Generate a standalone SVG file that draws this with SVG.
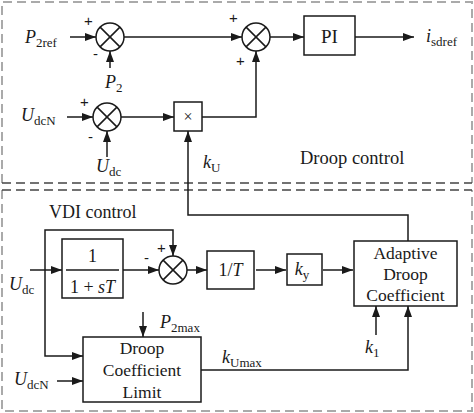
<svg xmlns="http://www.w3.org/2000/svg" width="474" height="413" viewBox="0 0 474 413">
<defs>
<marker id="ah" markerWidth="11" markerHeight="8" refX="11" refY="4" orient="auto" markerUnits="userSpaceOnUse">
<path d="M0,0 L11,4 L0,8 Z" fill="#1a1a1a"/>
</marker>
</defs>
<style>
.ln{fill:none;stroke:#1a1a1a;stroke-width:1.5}
.ar{fill:none;stroke:#1a1a1a;stroke-width:1.5;marker-end:url(#ah)}
.bx{fill:#fff;stroke:#1a1a1a;stroke-width:1.5}
.sm{fill:#fff;stroke:#1a1a1a;stroke-width:1.5}
text{font-family:'Liberation Serif','Times New Roman','DejaVu Serif',serif;font-size:18px;fill:#1a1a1a}
.b{font-size:17.5px}
.i{font-style:italic}
.s{font-size:13px;font-style:normal}
.pm{font-family:'Liberation Sans',Arial,sans-serif;font-size:15px}
.brd{fill:none;stroke:#aaa;stroke-width:2;stroke-dasharray:9,5}
.sep{fill:none;stroke:#444;stroke-width:1.5;stroke-dasharray:9,5}
</style>
<rect x="0" y="0" width="474" height="413" fill="#fff"/>
<g id="borders">
<polyline class="brd" points="2,183 2,2 472,2 472,183"/>
<polyline class="brd" points="2,190 2,411 472,411 472,190"/>
<line class="sep" x1="2" y1="183" x2="472" y2="183"/>
<line class="sep" x1="2" y1="190" x2="472" y2="190"/>
</g>
<g id="connectors">
<line class="ar" x1="70" y1="37" x2="96" y2="37"/>
<line class="ar" x1="110" y1="68" x2="110" y2="51"/>
<line class="ar" x1="124" y1="37" x2="242" y2="37"/>
<line class="ar" x1="270" y1="37" x2="304" y2="37"/>
<line class="ar" x1="355" y1="37" x2="414" y2="37"/>
<line class="ar" x1="67" y1="117" x2="93" y2="117"/>
<line class="ar" x1="107" y1="157" x2="107" y2="131"/>
<line class="ar" x1="121" y1="117" x2="174" y2="117"/>
<polyline class="ar" points="202,117 256,117 256,51"/>
<polyline class="ar" points="408,241 408,215 188,215 188,131"/>
<line class="ln" x1="30" y1="270" x2="45" y2="270"/>
<polyline class="ar" points="45,270 45,230 173,230 173,256"/>
<line class="ar" x1="45" y1="270" x2="62" y2="270"/>
<line class="ar" x1="123" y1="270" x2="159" y2="270"/>
<line class="ar" x1="187" y1="270" x2="207" y2="270"/>
<line class="ar" x1="256" y1="270" x2="286" y2="270"/>
<line class="ar" x1="323" y1="270" x2="353" y2="270"/>
<line class="ar" x1="376" y1="335" x2="376" y2="306"/>
<polyline class="ar" points="201,370 408,370 408,306"/>
<polyline class="ar" points="45,270 45,356 83,356"/>
<line class="ar" x1="143" y1="312" x2="143" y2="337"/>
<line class="ar" x1="57" y1="381" x2="83" y2="381"/>
</g>
<g id="sum1">
<circle class="sm" cx="110" cy="37" r="14"/>
<path class="ln" d="M100.1,27.1 L119.9,46.9 M119.9,27.1 L100.1,46.9"/>
<text class="pm" x="84" y="26">+</text>
<text class="pm" x="93" y="59">-</text>
</g>
<g id="sum2">
<circle class="sm" cx="256" cy="37" r="14"/>
<path class="ln" d="M246.1,27.1 L265.9,46.9 M265.9,27.1 L246.1,46.9"/>
<text class="pm" x="229" y="23">+</text>
<text class="pm" x="236" y="66">+</text>
</g>
<g id="pi">
<rect class="bx" x="304" y="16" width="51" height="39"/>
<text x="329.5" y="43" text-anchor="middle" style="font-size:19px">PI</text>
</g>
<g id="sum3">
<circle class="sm" cx="107" cy="117" r="14"/>
<path class="ln" d="M97.1,107.1 L116.9,126.9 M116.9,107.1 L97.1,126.9"/>
<text class="pm" x="80" y="107">+</text>
<text class="pm" x="88" y="142">-</text>
</g>
<g id="mult">
<rect class="bx" x="174" y="102" width="28" height="29"/>
<text x="188" y="122" text-anchor="middle" style="font-size:16px">×</text>
</g>
<g id="labels-top">
<text class="i" x="25" y="43">P<tspan class="s" dy="4">2ref</tspan></text>
<text class="i" x="105" y="88">P<tspan class="s" dy="4">2</tspan></text>
<text class="i" x="426" y="42">i<tspan class="s" dy="4">sdref</tspan></text>
<text class="i" x="21" y="121">U<tspan class="s" dy="4">dcN</tspan></text>
<text class="i" x="96" y="172">U<tspan class="s" dy="4">dc</tspan></text>
<text class="i" x="203" y="168">k<tspan class="s" dy="4">U</tspan></text>
<text x="300" y="164" style="font-size:18.5px">Droop control</text>
</g>
<g id="lpf">
<rect class="bx" x="62" y="239" width="61" height="59"/>
<text x="92.5" y="262" text-anchor="middle">1</text>
<line class="ln" x1="66" y1="270" x2="119" y2="270"/>
<text x="92.5" y="293" text-anchor="middle">1 + <tspan class="i">sT</tspan></text>
</g>
<g id="sum4">
<circle class="sm" cx="173" cy="270" r="14"/>
<path class="ln" d="M163.1,260.1 L182.9,279.9 M182.9,260.1 L163.1,279.9"/>
<text class="pm" x="157" y="253">+</text>
<text class="pm" x="144" y="263">-</text>
</g>
<g id="invT">
<rect class="bx" x="207" y="251" width="47" height="38"/>
<text x="230.5" y="276" text-anchor="middle">1/<tspan class="i">T</tspan></text>
</g>
<g id="ky">
<rect class="bx" x="287" y="254" width="35" height="31"/>
<text class="i" x="302" y="275" text-anchor="middle">k<tspan class="s" dy="4">y</tspan></text>
</g>
<g id="adaptive">
<rect class="bx" x="354" y="241" width="103" height="65"/>
<text class="b" x="405.5" y="259" text-anchor="middle">Adaptive</text>
<text class="b" x="405.5" y="280" text-anchor="middle">Droop</text>
<text class="b" x="405.5" y="301" text-anchor="middle">Coefficient</text>
</g>
<g id="dcl">
<rect class="bx" x="83" y="337" width="118" height="65"/>
<text class="b" x="142" y="354" text-anchor="middle">Droop</text>
<text class="b" x="142" y="376" text-anchor="middle">Coefficient</text>
<text class="b" x="142" y="398" text-anchor="middle">Limit</text>
</g>
<g id="labels-bottom">
<text x="49" y="218">VDI control</text>
<text class="i" x="9" y="290">U<tspan class="s" dy="4">dc</tspan></text>
<text class="i" x="160" y="328">P<tspan class="s" dy="4">2max</tspan></text>
<text class="i" x="222" y="363">k<tspan class="s" dy="4">Umax</tspan></text>
<text class="i" x="365" y="353">k<tspan class="s" dy="4">1</tspan></text>
<text class="i" x="14" y="385">U<tspan class="s" dy="4">dcN</tspan></text>
</g>
</svg>
